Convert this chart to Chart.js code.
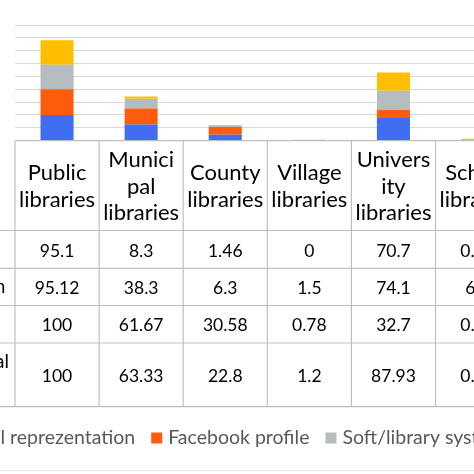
<!DOCTYPE html>
<html>
<head>
<meta charset="utf-8">
<script src="https://cdn.jsdelivr.net/npm/chart.js@4.4.1/dist/chart.umd.min.js"></script>
<style>
  html, body { margin: 0; padding: 0; background: #fff; overflow: hidden; width: 474px; height: 474px; }
  #chart { display: block; }
</style>
</head>
<body>
<canvas id="chart" width="520" height="474"></canvas>
<script>
// categories (header lines as they wrap in the data table)
const categories = [
  ["Public", "libraries"],
  ["Munici", "pal", "libraries"],
  ["County", "libraries"],
  ["Village", "libraries"],
  ["Univers", "ity", "libraries"],
  ["School", "libraries"],
];

const seriesNames = [
  "Website and virtual reprezentation",
  "Facebook profile",
  "Soft/library system",
  "Online catalogue",
];

// one array per series, bottom of the stack first
const virtualRep = [100, 63.33, 22.8, 1.2, 87.93, 0.47];
const facebookProfile = [100, 61.67, 30.58, 0.78, 32.7, 0.39];
const softSystem = [95.12, 38.3, 6.3, 1.5, 74.1, 6.2];
const onlineCatalogue = [95.1, 8.3, 1.46, 0, 70.7, 0.45];

const yMin = 0;
const yMax = 450;
const yStep = 50;

const colors = ["#3f6ef3", "#ff5c0e", "#b5bcbd", "#ffbf00"];

// layout of the crop (the original chart runs past the left and right edges)
const FONT = "Lato, 'Open Sans', sans-serif";
const PLOT_LEFT = 15;
const COL_W = 84.1;
const PLOT_TOP = 25;
const ROW_EDGES = [140.7, 230.5, 268.3, 305.5, 343, 406.7];
const LABEL_WRAP = 180;
const LEGEND_CX = 252;
const LEGEND_Y = 438;
const LINE = "#bfbfbf";

const wrapText = (ctx, text, maxWidth) => {
  const lines = [];
  let cur = "";
  text.split(" ").forEach((w) => {
    const test = cur ? cur + " " + w : w;
    if (cur && ctx.measureText(test).width > maxWidth) {
      lines.push(cur);
      cur = w;
    } else {
      cur = test;
    }
  });
  lines.push(cur);
  return lines;
};

const tablePlugin = {
  id: "dataTable",
  afterDraw(chart) {
    const { ctx, scales: { x } } = chart;
    const n = chart.data.labels.length;
    const step = x.getPixelForValue(1) - x.getPixelForValue(0);
    const colLeft = x.getPixelForValue(0) - step / 2;
    const colRight = x.getPixelForValue(n - 1) + step / 2;
    const rows = chart.data.datasets.slice().reverse();
    const lh = 26.5;

    ctx.save();

    // row label column sized to its widest line
    ctx.font = "19px " + FONT;
    const rowLines = rows.map((ds) => wrapText(ctx, ds.label, LABEL_WRAP));
    const widest = Math.max(...rowLines.flat().map((t) => ctx.measureText(t).width));
    const labelLeft = colLeft - widest - 12;

    ctx.strokeStyle = LINE;
    ctx.lineWidth = 1.2;
    ROW_EDGES.forEach((y, i) => {
      ctx.beginPath();
      ctx.moveTo(i === 0 ? colLeft : labelLeft, y);
      ctx.lineTo(colRight, y);
      ctx.stroke();
    });
    for (let i = 0; i <= n; i++) {
      const xx = colLeft + i * step;
      ctx.beginPath();
      ctx.moveTo(xx, ROW_EDGES[0]);
      ctx.lineTo(xx, ROW_EDGES[ROW_EDGES.length - 1]);
      ctx.stroke();
    }
    ctx.beginPath();
    ctx.moveTo(labelLeft, ROW_EDGES[1]);
    ctx.lineTo(labelLeft, ROW_EDGES[ROW_EDGES.length - 1]);
    ctx.stroke();

    ctx.fillStyle = "#000";
    ctx.textBaseline = "middle";

    // row labels
    ctx.textAlign = "left";
    rowLines.forEach((lines, r) => {
      const mid = (ROW_EDGES[r + 1] + ROW_EDGES[r + 2]) / 2;
      lines.forEach((t, j) => {
        ctx.fillText(t, labelLeft + 6, mid + (j - (lines.length - 1) / 2) * lh);
      });
    });

    // header
    ctx.textAlign = "center";
    ctx.font = "22px " + FONT;
    const headMid = (ROW_EDGES[0] + ROW_EDGES[1]) / 2;
    chart.data.labels.forEach((lines, i) => {
      const cx = x.getPixelForValue(i);
      lines.forEach((t, j) => {
        ctx.fillText(t, cx, headMid + (j - (lines.length - 1) / 2) * lh + 1);
      });
    });

    // value rows
    ctx.font = "17.5px " + FONT;
    rows.forEach((ds, r) => {
      const mid = (ROW_EDGES[r + 1] + ROW_EDGES[r + 2]) / 2 + 1.5;
      ds.data.forEach((v, i) => {
        ctx.fillText(String(v), x.getPixelForValue(i), mid);
      });
    });

    // legend
    ctx.textAlign = "left";
    ctx.font = "19.5px " + FONT;
    const box = 11, gap = 6, pad = 16;
    const widths = chart.data.datasets.map((ds) => ctx.measureText(ds.label).width);
    const total = widths.reduce((s, w) => s + box + gap + w, 0) + pad * (widths.length - 1);
    let lx = LEGEND_CX - total / 2;
    chart.data.datasets.forEach((ds, i) => {
      ctx.fillStyle = ds.backgroundColor;
      ctx.fillRect(lx, LEGEND_Y - box / 2, box, box);
      ctx.fillStyle = "#595959";
      ctx.fillText(ds.label, lx + box + gap, LEGEND_Y);
      lx += box + gap + widths[i] + pad;
    });

    // chart border
    ctx.strokeStyle = "#e6e6e6";
    ctx.lineWidth = 1;
    ctx.beginPath();
    ctx.moveTo(0, 470.5);
    ctx.lineTo(chart.width, 470.5);
    ctx.stroke();
    ctx.restore();
  },
};

const seriesData = [virtualRep, facebookProfile, softSystem, onlineCatalogue];

const ctx = document.getElementById("chart");
const chart = new Chart(ctx, {
  type: "bar",
  data: {
    labels: categories,
    datasets: seriesData.map((data, i) => ({
      label: seriesNames[i],
      data: data,
      backgroundColor: colors[i],
      categoryPercentage: 1,
      barPercentage: 0.393,
    })),
  },
  options: {
    responsive: false,
    animation: false,
    devicePixelRatio: 1,
    layout: {
      padding: {
        top: PLOT_TOP,
        left: PLOT_LEFT,
        right: 520 - PLOT_LEFT - COL_W * categories.length,
        bottom: 474 - ROW_EDGES[ROW_EDGES.length - 1],
      },
    },
    plugins: {
      legend: { display: false },
      tooltip: { enabled: false },
    },
    scales: {
      x: {
        stacked: true,
        grid: { display: false },
        border: { display: false },
        ticks: { display: false },
        afterFit: (scale) => {
          scale.height = ROW_EDGES[ROW_EDGES.length - 1] - ROW_EDGES[0];
        },
      },
      y: {
        stacked: true,
        min: yMin,
        max: yMax,
        ticks: { display: false, stepSize: yStep },
        grid: { color: "#d9d9d9", drawTicks: false },
        border: { display: false },
        afterFit: (scale) => {
          scale.width = 0;
        },
      },
    },
  },
  plugins: [tablePlugin],
});
</script>
</body>
</html>
